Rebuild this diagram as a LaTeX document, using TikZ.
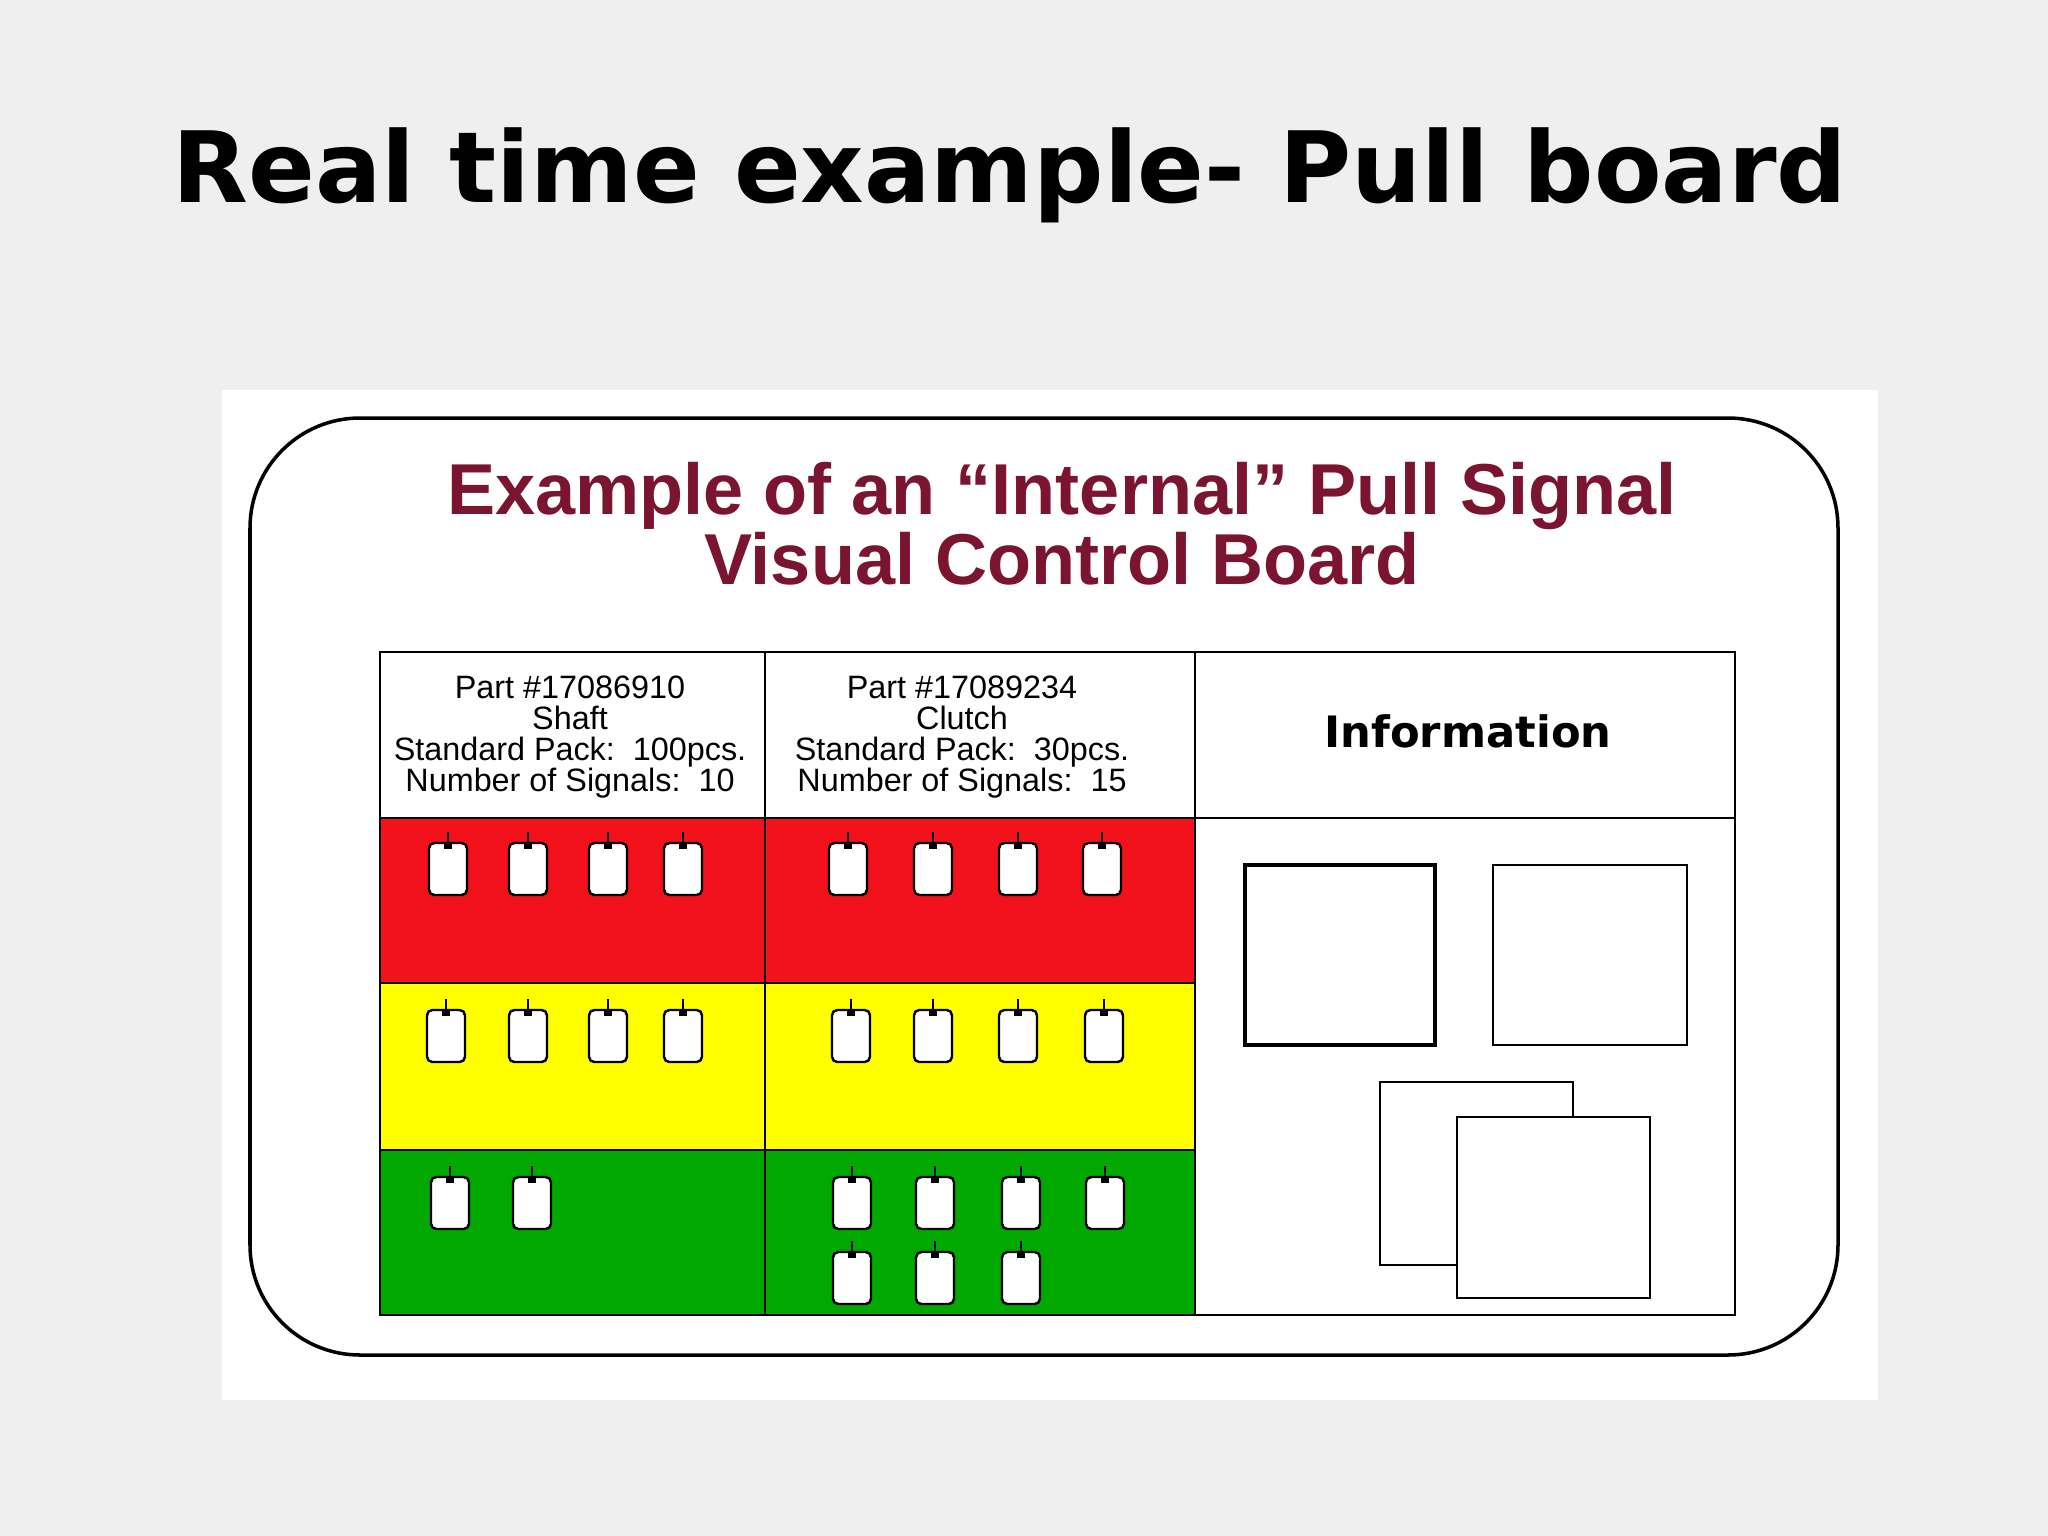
\documentclass[tikz,border=0pt]{standalone}
\usepackage{fontspec}
\setmainfont{DejaVu Sans}
\newfontfamily\lib{Liberation Sans}
\definecolor{bg}{HTML}{EFEFEF}
\definecolor{dred}{HTML}{7A1430}
\definecolor{rred}{HTML}{F2121C}
\definecolor{yy}{HTML}{FFFF00}
\definecolor{gg}{HTML}{00A800}
\newlength\ux \setlength\ux{0.01cm}
\tikzset{tagbox/.style={draw=black,line width=0.7pt,fill=white,rounded corners=1.5pt,minimum width=38\ux,minimum height=52\ux,inner sep=0pt},
 cell/.style={draw=black,line width=0.8pt},
 info/.style={draw=black,line width=0.6pt,fill=white}}
\newcommand\tagat[3]{\node[tagbox] (#1) at (#2,#3) {};
 \fill (#1.north) ++(-4\ux,-1\ux) rectangle ++(8\ux,-6\ux);
 \draw[line width=0.4pt] (#1.north) -- ++(0,10\ux);}
\begin{document}
\begin{tikzpicture}[x=0.01cm,y=-0.01cm]
\fill[bg] (0,0) rectangle (2048,1536);
\useasboundingbox (0,0) rectangle (2048,1536);
\node[font=\bfseries\fontsize{28}{34}\selectfont] (title) at (1010,175) {Real time example- Pull board};
\fill[white] (222,390) rectangle (1878,1400);
\draw[line width=1pt,rounded corners=110\ux] (250,418) rectangle (1838,1355);
\node[text=dred,font=\lib\bfseries\fontsize{20.5}{20}\selectfont,align=center] (sub) at (1062,524) {Example of an “Internal” Pull Signal\\Visual Control Board};
\fill[rred] (380,818) rectangle (1195,983);
\fill[yy] (380,983) rectangle (1195,1150);
\fill[gg] (380,1150) rectangle (1195,1315);
\draw[cell] (380,652) rectangle (1735,1315);
\draw[cell] (765,652) -- (765,1315);
\draw[cell] (1195,652) -- (1195,1315);
\draw[cell] (380,818) -- (1735,818);
\draw[cell] (380,983) -- (1195,983);
\draw[cell] (380,1150) -- (1195,1150);
\node[font=\lib\fontsize{9.2}{8.9}\selectfont,align=center] (h1) at (570,737) {Part \#17086910\\Shaft\\Standard Pack:\ \ 100pcs.\\Number of Signals:\ \ 10};
\node[font=\lib\fontsize{9.2}{8.9}\selectfont,align=center] (h2) at (962,737) {Part \#17089234\\Clutch\\Standard Pack:\ \ 30pcs.\\Number of Signals:\ \ 15};
\node[font=\bfseries\fontsize{12.3}{14}\selectfont] (inf) at (1468,731) {Information};
\draw[info,line width=1.1pt] (1245,865) rectangle (1435,1045);
\draw[info] (1493,865) rectangle (1687,1045);
\draw[info] (1380,1082) rectangle (1573,1265);
\draw[info] (1457,1117) rectangle (1650,1298);
\tagat{r1}{448}{869}\tagat{r2}{528}{869}\tagat{r3}{608}{869}\tagat{r4}{683}{869}
\tagat{r5}{848}{869}\tagat{r6}{933}{869}\tagat{r7}{1018}{869}\tagat{r8}{1102}{869}
\tagat{y1}{446}{1036}\tagat{y2}{528}{1036}\tagat{y3}{608}{1036}\tagat{y4}{683}{1036}
\tagat{y5}{851}{1036}\tagat{y6}{933}{1036}\tagat{y7}{1018}{1036}\tagat{y8}{1104}{1036}
\tagat{g1}{450}{1203}\tagat{g2}{532}{1203}
\tagat{g3}{852}{1203}\tagat{g4}{935}{1203}\tagat{g5}{1021}{1203}\tagat{g6}{1105}{1203}
\tagat{g7}{852}{1278}\tagat{g8}{935}{1278}\tagat{g9}{1021}{1278}
\end{tikzpicture}
\end{document}
